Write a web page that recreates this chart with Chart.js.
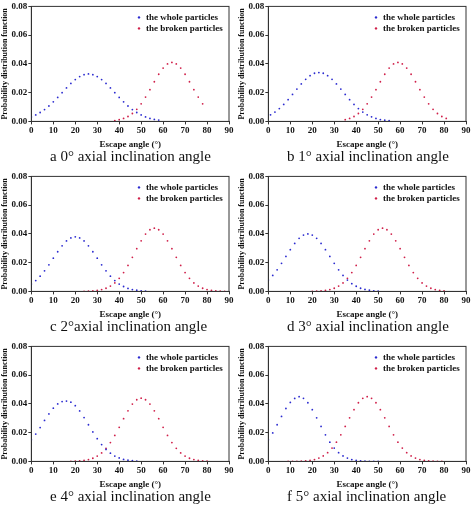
<!DOCTYPE html>
<html><head><meta charset="utf-8">
<script src="https://cdn.jsdelivr.net/npm/chart.js@4"></script>
<style>
body{margin:0;background:#fff;width:474px;height:508px;position:relative;font-family:"Liberation Serif",serif}
.p{position:absolute;width:237px;height:170px}
.p canvas{position:absolute;left:0;top:0}
.cap{position:absolute;left:0;top:148px;width:237px;text-align:left;padding-left:50px;box-sizing:border-box;font-size:15px;color:#111}
</style></head><body>
<script>
const captions=["a 0° axial inclination angle","b 1° axial inclination angle","c 2°axial inclination angle","d 3° axial inclination angle","e 4° axial inclination angle","f 5° axial inclination angle"];
const xTicks=[0,10,20,30,40,50,60,70,80,90];
const yTicks=[0,0.02,0.04,0.06,0.08];
// start angle of each series (step 2°)
const wholeStart=[0,1,0,0,0,0];
const brokenStart=[38,35,24,20,18,9];
const wholeA=[.0031,.0045,.0062,.0082,.0107,.0136,.0167,.0200,.0233,.0264,.0291,.0312,.0325,.033,.0325,.0312,.0291,.0264,.0233,.0200,.0167,.0136,.0107,.0082,.0062,.0045,.0031,.0021,.0014,.0009];
const brokenA=[.0006,.0012,.0021,.0034,.0055,.0084,.0122,.0169,.0221,.0276,.0328,.0371,.040,.041,.040,.0371,.0328,.0276,.0221,.0169,.0122];
const wholeB=[.0046,.0065,.0089,.0118,.0151,.0188,.0225,.0261,.0293,.0318,.0335,.034,.0335,.0318,.0293,.0261,.0225,.0188,.0151,.0118,.0089,.0065,.0046,.0032,.0021,.0013,.0008,.0005];
const brokenB=[.0012,.0021,.0034,.0055,.0084,.0122,.0169,.0221,.0276,.0328,.0371,.040,.041,.040,.0371,.0328,.0276,.0221,.0169,.0122,.0084,.0055,.0034,.0021];
const wholeC=[.0051,.0075,.0106,.0143,.0185,.0231,.0276,.0317,.0351,.0372,.038,.0372,.0351,.0317,.0276,.0231,.0185,.0143,.0106,.0075,.0051,.0034,.0021,.0013,.0008,.0004,.0002];
const brokenC=[0,.0001,.0003,.0007,.0013,.0022,.0037,.0059,.0091,.0131,.0181,.0237,.0297,.0352,.0399,.0429,.044,.0429,.0399,.0352,.0297,.0237,.0181,.0131,.0091,.0059,.0037,.0022,.0013,.0007,.0003,.0001,0];
const wholeD=[.0079,.0111,.0150,.0195,.0243,.0290,.0334,.0369,.0392,.040,.0392,.0369,.0334,.0290,.0243,.0195,.0150,.0111,.0079,.0054,.0036,.0022,.0014,.0008,.0004,.0002];
const brokenD=[0,.0001,.0003,.0007,.0013,.0022,.0037,.0059,.0091,.0131,.0181,.0237,.0297,.0352,.0399,.0429,.044,.0429,.0399,.0352,.0297,.0237,.0181,.0131,.0091,.0059,.0037,.0022,.0013,.0007,.0003];
const wholeE=[.0150,.0190,.0235,.0285,.0330,.0370,.0400,.0416,.042,.0412,.0388,.0351,.0305,.0255,.0205,.0158,.0117,.0083,.0057,.0037,.0024,.0014,.0008,.0005,.0002];
const brokenE=[0,.0001,.0003,.0007,.0013,.0022,.0037,.0059,.0091,.0131,.0181,.0237,.0297,.0352,.0399,.0429,.044,.0429,.0399,.0352,.0297,.0237,.0181,.0131,.0091,.0059,.0037,.0022,.0013,.0007,.0003,.0001];
const wholeF=[.015,.0198,.0255,.0313,.0368,.0410,.0438,.045,.0439,.0408,.0360,.0303,.0243,.0185,.0134,.0093,.0061,.0038,.0023,.0013,.0007,.0003,.0001,0,0,0];
const brokenF=[0,0,0,.0001,.0003,.0007,.0013,.0023,.0038,.0061,.0093,.0134,.0185,.0243,.0303,.0360,.0408,.0439,.045,.0439,.0408,.0360,.0303,.0243,.0185,.0134,.0093,.0061,.0038,.0023,.0013,.0007,.0003,.0001,0,0];
const wholes=[wholeA,wholeB,wholeC,wholeD,wholeE,wholeF];
const brokens=[brokenA,brokenB,brokenC,brokenD,brokenE,brokenF];
const toPts=(arr,s)=>arr.map((y,i)=>({x:s+2*i,y}));
const F="'Liberation Serif', serif";
const frame={id:'frame',afterDraw(c){const a=c.chartArea,x=c.ctx;x.save();x.strokeStyle='#333';x.lineWidth=1;x.strokeRect(a.left,a.top,a.right-a.left,a.bottom-a.top);
  x.font="bold 9px "+F;x.textBaseline='middle';x.fillStyle='#111';
  c.data.datasets.forEach((ds,k)=>{const ty=a.top+11+k*11,tx=a.right-83;
    x.fillStyle=ds.backgroundColor;x.beginPath();x.arc(tx-7,ty,1.2,0,Math.PI*2);x.fill();
    x.fillStyle='#111';x.fillText(ds.label,tx,ty);});
  x.restore();}};
for(let i=0;i<6;i++){
  const d=document.createElement('div');d.className='p';
  d.style.left=(i%2)*237+'px';d.style.top=Math.floor(i/2)*170+'px';
  const cv=document.createElement('canvas');d.appendChild(cv);
  const cap=document.createElement('div');cap.className='cap';cap.textContent=captions[i];d.appendChild(cap);
  document.body.appendChild(d);
  cv.style.width='237px';cv.style.height='150px';cv.width=237;cv.height=150;
  new Chart(cv,{type:'scatter',
    data:{datasets:[
      {label:'the whole particles',data:toPts(wholes[i],wholeStart[i]),backgroundColor:'#2b2bd0',borderColor:'#2b2bd0',pointRadius:0.9,borderWidth:0,pointStyle:'circle'},
      {label:'the broken particles',data:toPts(brokens[i],brokenStart[i]),backgroundColor:'#d0204a',borderColor:'#d0204a',pointRadius:0.9,borderWidth:0,pointStyle:'circle'}]},
    options:{responsive:false,animation:false,devicePixelRatio:1,
      layout:{padding:{top:4,right:8,left:0,bottom:0}},
      plugins:{legend:{display:false},tooltip:{enabled:false}},
      scales:{
        x:{type:'linear',min:0,max:90,afterBuildTicks:a=>{a.ticks=xTicks.map(v=>({value:v}))},
          grid:{drawOnChartArea:false,tickLength:3,color:'#333'},border:{color:'#333'},
          ticks:{color:'#111',font:{family:F,size:9,weight:'bold'},padding:1,maxRotation:0},
          title:{display:true,text:'Escape angle (°)',color:'#111',font:{family:F,size:9,weight:'bold'},padding:{top:2,bottom:0}}},
        y:{min:0,max:0.08,afterBuildTicks:a=>{a.ticks=yTicks.map(v=>({value:v}))},
          grid:{drawOnChartArea:false,tickLength:3,color:'#333'},border:{color:'#333'},
          ticks:{color:'#111',font:{family:F,size:9,weight:'bold'},padding:1,callback:v=>v.toFixed(2)},
          title:{display:true,text:'Probability distribution function',color:'#111',font:{family:F,size:8,weight:'bold'},padding:{top:0,bottom:1}}}}},
    plugins:[frame]});
}
</script>
</body></html>
